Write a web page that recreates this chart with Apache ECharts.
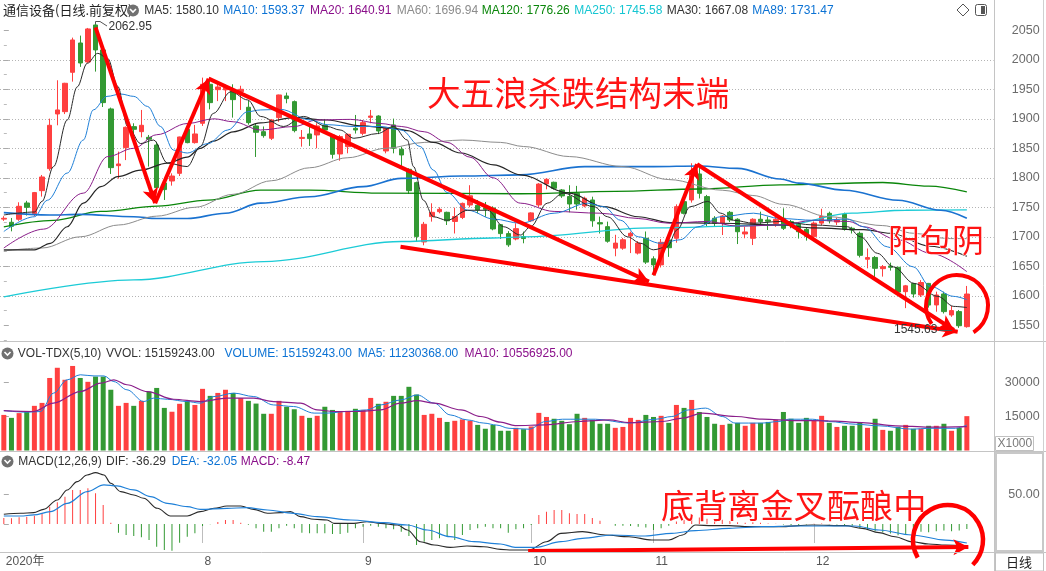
<!DOCTYPE html>
<html>
<head>
<meta charset="utf-8">
<title>通信设备 日线</title>
<script src="https://cdn.jsdelivr.net/npm/echarts@6/dist/echarts.min.js"></script>
<style>
  html, body { margin: 0; padding: 0; background: #fff; }
  #main { width: 1046px; height: 571px; }
</style>
</head>
<body>
<div id="main"></div>
<script>
// trading days on the chart, 2020-06-24 .. 2020-12-29
const jun = [24, 29, 30]
const jul = [1, 2, 3, 6, 7, 8, 9, 10, 13, 14, 15, 16, 17, 20, 21, 22, 23, 24, 27, 28, 29, 30, 31]
const aug = [3, 4, 5, 6, 7, 10, 11, 12, 13, 14, 17, 18, 19, 20, 21, 24, 25, 26, 27, 28, 31]
const sep = [1, 2, 3, 4, 7, 8, 9, 10, 11, 14, 15, 16, 17, 18, 21, 22, 23, 24, 25, 28, 29, 30]
const oct = [9, 12, 13, 14, 15, 16, 19, 20, 21, 22, 23, 26, 27, 28, 29, 30]
const nov = [2, 3, 4, 5, 6, 9, 10, 11, 12, 13, 16, 17, 18, 19, 20, 23, 24, 25, 26, 27, 30]
const dec = [1, 2, 3, 4, 7, 8, 9, 10, 11, 14, 15, 16, 17, 18, 21, 22, 23, 24, 25, 28, 29]
const labelMonths = ['08', '09', '10', '11', '12']

// [open, close, low, high]
const candles = [
  [1730, 1731.4, 1727, 1735], [1724.6, 1717.8, 1709.3, 1731.9], [1729.7, 1751.7, 1727, 1758.5], [1757.3, 1750, 1736, 1761],
  [1739.3, 1774.9, 1735, 1776], [1778.2, 1801.4, 1768.1, 1804.8], [1815.5, 1889, 1812, 1900.3], [1908.2, 1915, 1889, 1965.3],
  [1912.1, 1960.2, 1908, 1961], [1978.8, 2033.6, 1963, 2037.6], [2028.5, 1994.6, 1988, 2041], [1996.3, 2052.3, 1995, 2054],
  [2059, 2016.7, 1980, 2062.95], [2016.7, 1927.4, 1920, 2019], [1916.7, 1817.2, 1806.5, 1919], [1820.6, 1823.4, 1798.6, 1844.4],
  [1851.1, 1885.6, 1830, 1887], [1886.7, 1882.2, 1865.8, 1892.4], [1878.2, 1889, 1868.6, 1915], [1868.6, 1865.3, 1819, 1872.6],
  [1855.6, 1783.3, 1781, 1861], [1791.2, 1780, 1762.4, 1796], [1794.6, 1803, 1786.7, 1807.6], [1807.6, 1869.2, 1803, 1869.8],
  [1882.2, 1859.6, 1858.5, 1892.4], [1859.6, 1874.3, 1858, 1889.6], [1892.4, 1958.5, 1887.9, 1969.8], [1958.5, 1927.4, 1916, 1970.3],
  [1949.4, 1954, 1930, 1958.5], [1949, 1953, 1930, 1958], [1946.6, 1932.5, 1902, 1958.5], [1946, 1950, 1915, 1956],
  [1919.5, 1893.5, 1890, 1930.8], [1887.9, 1877.1, 1835.3, 1892.4], [1878.2, 1871.5, 1868, 1887], [1867, 1898, 1864, 1899.7],
  [1902, 1940.4, 1895, 1941], [1938.7, 1934.2, 1926.3, 1944.4], [1929.1, 1880, 1877, 1931], [1866.8, 1868.5, 1852.8, 1881],
  [1874.3, 1866.4, 1854, 1887.9], [1872.6, 1887.9, 1850, 1892.4], [1889, 1881, 1878, 1899.7], [1872.6, 1839.8, 1832.5, 1873.7],
  [1840.4, 1869.8, 1829, 1872.6], [1852.8, 1873.7, 1841.5, 1874.9], [1883.9, 1881, 1875, 1906.5], [1875.4, 1893.5, 1872, 1898],
  [1902.5, 1904.7, 1892.4, 1915], [1904.7, 1879.4, 1874, 1906], [1845.5, 1883.9, 1841.5, 1885], [1889.6, 1850, 1841.5, 1900.3],
  [1848.3, 1838.7, 1816, 1852.8], [1814.4, 1778.2, 1772.6, 1816], [1791.8, 1700.3, 1691.3, 1793.5], [1691.3, 1721.2, 1685.6, 1725.2],
  [1734.2, 1741.5, 1725.7, 1756.8], [1742.6, 1746.6, 1739.8, 1750], [1741.5, 1727.1, 1720, 1742.6], [1726, 1734.2, 1705.6, 1749.4],
  [1732.8, 1756.6, 1730, 1758], [1753.9, 1769.5, 1750, 1787.4], [1753.4, 1745.5, 1739.8, 1762.4], [1749, 1746.6, 1734, 1759],
  [1748.9, 1713.3, 1711, 1751.7], [1720.6, 1705.4, 1696.3, 1721.8], [1705.4, 1686.4, 1683, 1709.6], [1696.3, 1713.8, 1694, 1723],
  [1700.3, 1697, 1689, 1708.8], [1727.1, 1740.5, 1725, 1741.6], [1754, 1789.4, 1750, 1791], [1789.6, 1797.5, 1780.5, 1799.2],
  [1792.4, 1782.3, 1780, 1793.5], [1779.4, 1769.3, 1766, 1781], [1768.2, 1755.6, 1741.5, 1787.4], [1773.7, 1755.6, 1746, 1786.3],
  [1752.3, 1765.3, 1750, 1768], [1762.4, 1727.1, 1717, 1768], [1724, 1721.8, 1705.6, 1734.2], [1717.2, 1692.5, 1690, 1725.7],
  [1680.8, 1689.3, 1667, 1703.4], [1680.8, 1695, 1678, 1698], [1701.4, 1705.9, 1672.4, 1708.8], [1672.4, 1689.3, 1670, 1692.7],
  [1697.5, 1657.1, 1654, 1709], [1662.6, 1652.4, 1634.4, 1667], [1652.4, 1690.7, 1648, 1696.3], [1694.5, 1681.5, 1666, 1703],
  [1697.5, 1751.1, 1690, 1755], [1759.6, 1739.8, 1738, 1762], [1762.4, 1807.6, 1758, 1824.6], [1806.5, 1773.7, 1765, 1823.4],
  [1768.1, 1722.7, 1718, 1771], [1731.4, 1722.7, 1718, 1735], [1722.7, 1735.3, 1703, 1737], [1741.5, 1728.5, 1725, 1743.8],
  [1729.7, 1708.6, 1687.7, 1731.4], [1704.8, 1708.2, 1697.5, 1717], [1697.5, 1729.7, 1686, 1731.4], [1729.7, 1725.7, 1720, 1742.6],
  [1728.5, 1726.3, 1711.6, 1734.2], [1722.7, 1729.7, 1717, 1734.2], [1731.4, 1714.4, 1711.6, 1748.3], [1725.7, 1721.8, 1714.4, 1728.5],
  [1721.8, 1708.6, 1697, 1724], [1712.7, 1701, 1693.5, 1716], [1700.3, 1723.2, 1698, 1726], [1723.2, 1734.5, 1720, 1747.5],
  [1739.8, 1727.1, 1722.7, 1742.6], [1725, 1728.5, 1720, 1732.5], [1738.1, 1712.7, 1710.5, 1740.9], [1714.4, 1711.6, 1705.6, 1717],
  [1705.9, 1668.6, 1665, 1708.8], [1662, 1664.8, 1646.6, 1680.2], [1665, 1646.6, 1632, 1667.5], [1646, 1649.4, 1632.5, 1652.2],
  [1650.5, 1648.3, 1642.7, 1656.2], [1648.3, 1606.3, 1603, 1649.4], [1607, 1616.9, 1579.1, 1618.4], [1620.9, 1603.1, 1597, 1621.2],
  [1601.4, 1622.5, 1598, 1626.6], [1621, 1584.3, 1580, 1621.8], [1584.5, 1601.4, 1573, 1607], [1603.1, 1573.2, 1570, 1607],
  [1567.5, 1574.9, 1564.4, 1582.7], [1573.2, 1549.3, 1545.63, 1576], [1547.7, 1603, 1546, 1616.7]
]

// volume, in units of 1000 shares
const volume = [
  15700, 14400, 16500, 17200, 19700, 21000, 32000, 36500, 31200, 37300,
  32000, 30300, 32600, 32600, 26800, 19700, 21000, 19700, 21900, 26000,
  27600, 18800, 17100, 20600, 21800, 20100, 27200, 24100, 25400, 26800,
  25400, 23100, 21900, 20700, 16200, 16200, 21900, 19300, 18200, 15300,
  14400, 15300, 19300, 17900, 17100, 17500, 18400, 17900, 23200, 20600,
  21500, 24100, 24100, 28100, 24700, 15700, 16200, 14400, 12600, 13100,
  13700, 13100, 11300, 9600, 11300, 8700, 8700, 10000, 9400, 10600,
  16600, 14800, 14000, 13100, 11600, 16200, 14400, 13500, 11800, 11800,
  10000, 10400, 14400, 13500, 15700, 14800, 15300, 12200, 20100, 18800,
  22300, 17000, 14800, 11800, 11300, 11800, 12200, 10900, 12200, 12200,
  12600, 13500, 17000, 14000, 12200, 14400, 13100, 15300, 12200, 10400,
  10900, 10900, 12200, 10000, 14000, 9100, 8700, 10400, 11300, 9600,
  9600, 10900, 10900, 11800, 8700, 10000, 15159
]

const macdHist = [
  10, 9.6, 11.2, 12.4, 14, 16.9, 29.2, 36.5, 46, 57.3,
  57.3, 60.1, 51.7, 32, 2.2, -14.6, -18.5, -20.2, -22.5, -27,
  -38.2, -43.8, -45, -31.5, -21.4, -15.7, -3.4, -0.5, 3.4, 6.7,
  6.7, 2.2, -1.1, -7.3, -12.9, -12.9, -7.3, -2.8, -7.3, -14.6,
  -15.7, -15.7, -15.7, -16.9, -16.9, -14.6, -7.3, -4.5, -2.8, -4.5,
  -7.3, -9, -12.9, -20.2, -35.4, -29.8, -27, -24.2, -21.4, -27,
  -18.5, -10.1, -7.3, -4.5, -7.3, -7.3, -14.6, -9, -7.3, -1.7,
  15.2, 20.8, 23.6, 23.6, 18, 16.9, 16.9, 10.1, 5.6, 0,
  -2.8, -2.8, -3.5, -4.5, -6, -10.1, -7.3, -2.8, 4, 6.7,
  12.4, 11, 9, 8, 7, 5, 3, 2, 3, 2,
  1, 0.5, -1, -1.5, -2, -1, 0.5, 1, -0.5, -1,
  -1.5, -3, -7, -9, -12, -14, -16, -19, -17, -16,
  -13, -14, -12, -11, -12, -11, -8.47
]

// moving averages: [bar index, value]
const ma5 = [[0, 1737], [4, 1742], [5, 1760], [6.5, 1819], [8.3, 1898], [9.6, 1954], [10.9, 1994], [12.3, 2011], [13.6, 2002], [14.9, 1955], [16.2, 1887], [17.9, 1858], [19.6, 1864], [21.4, 1825], [24, 1819], [25.7, 1853], [27.4, 1909], [29.7, 1946], [31.9, 1932], [33.6, 1904], [36.6, 1887], [39.2, 1904], [42.3, 1887], [44, 1881], [45.8, 1867], [48.9, 1875], [51, 1887], [52.8, 1864], [53.6, 1819], [54.9, 1762], [56.2, 1734], [58, 1728], [60.7, 1745], [63.3, 1745], [65.4, 1717], [67.6, 1703], [68.9, 1717], [71.1, 1757], [73.2, 1774], [77.2, 1751], [79, 1734], [81.6, 1700], [83.3, 1689], [85, 1678], [86.8, 1683], [88.1, 1712], [89.8, 1751], [92.1, 1760], [93.8, 1740], [95.5, 1728], [98.1, 1723], [101.6, 1726], [106, 1720], [110.4, 1717], [112.1, 1700], [114.3, 1672], [116.4, 1649], [119.1, 1621], [122.2, 1599], [124.3, 1582], [126, 1580.1]]
const ma10 = [[0, 1709], [4, 1734], [5.7, 1762], [8.3, 1808], [10.4, 1864], [11.7, 1915], [13.5, 1938], [15.3, 1942], [17, 1938], [18.8, 1921], [20.5, 1887], [22.2, 1847], [24, 1842], [26.7, 1858], [29.3, 1881], [31.9, 1912], [33.6, 1915], [36.2, 1916], [40.1, 1898], [42.3, 1890], [45.8, 1887], [49.3, 1887], [52, 1881], [54.5, 1853], [56.2, 1813], [58, 1775], [60.7, 1745], [64.1, 1730], [67.6, 1723], [72, 1740], [76.4, 1757], [78.5, 1751], [80.7, 1728], [83, 1700], [85.9, 1689], [88.5, 1695], [90.8, 1717], [93.8, 1734], [98.1, 1740], [101.6, 1731], [106, 1728], [110.4, 1730], [112.5, 1717], [115.6, 1683], [119, 1649], [121.2, 1616], [124.3, 1599], [126, 1593.4]]
const ma20 = [[0, 1681], [5.2, 1713], [10.4, 1774], [13.6, 1836], [17, 1850], [20, 1873], [24, 1892], [27.5, 1900], [30, 1895], [33.6, 1881], [38, 1887], [41, 1898], [45.4, 1899], [49.3, 1892], [52, 1887], [55, 1878], [58, 1860], [61, 1835], [64, 1800], [67.6, 1757], [72, 1743], [78, 1740], [83, 1731], [87, 1723], [92, 1726], [96, 1718], [101.6, 1720], [106, 1728], [110.6, 1726], [112.5, 1717], [117, 1695], [121.3, 1672], [126, 1640.9]]
const ma30 = [[0, 1678], [4, 1678], [6.1, 1689], [8.3, 1717], [10.4, 1757], [12.7, 1785], [14.9, 1802], [17.9, 1813], [21.4, 1825], [24, 1835], [25.7, 1850], [27.4, 1862], [30, 1878], [33.6, 1893], [37.9, 1902], [42.3, 1898], [46.7, 1888], [51, 1884], [52.8, 1880], [56.2, 1860], [59.8, 1842], [64.1, 1822], [67.6, 1805], [74, 1774], [78.5, 1751], [83, 1734], [87.2, 1724], [93.8, 1723], [101.6, 1720], [106, 1715], [112.5, 1712], [116, 1706], [121.2, 1684], [126, 1667.1]]
const ma60 = [[0, 1676], [5, 1681], [10, 1700], [15, 1720], [20, 1735], [25, 1750], [30, 1772], [35, 1795], [40, 1817], [45, 1834], [50, 1850], [55, 1860], [60, 1864], [65, 1860], [68, 1853], [74, 1836], [81, 1819], [87, 1797], [94, 1779], [98, 1770], [102, 1755], [108, 1734], [115, 1719], [119, 1706], [123.5, 1697], [126, 1696.9]]
const ma89 = [[0, 1741], [6, 1737], [10, 1738], [17, 1734], [20, 1731], [24, 1731], [29, 1740], [33.6, 1757], [40, 1768], [47, 1785], [52, 1799], [60, 1803], [67.6, 1805], [76, 1819], [85, 1819], [91, 1820], [96, 1816], [101.6, 1798], [104, 1791], [110, 1779], [117, 1762], [122.6, 1745], [126, 1731.5]]
const ma120 = [[0, 1717], [6.5, 1728], [12.7, 1743], [20.1, 1752], [26.7, 1762], [33.6, 1779], [40, 1779], [49, 1774], [67.6, 1773], [80, 1777], [91, 1781], [101.6, 1788], [115, 1792], [121, 1786], [126, 1776.3]]
const ma250 = [[0, 1598], [17, 1627], [34, 1658], [52, 1692], [64, 1698], [68, 1700], [85, 1715], [102, 1720], [111, 1740], [118, 1745], [126, 1745.6]]

const volMa5 = [[0, 17600], [3.1, 16900], [4.8, 17200], [6.5, 25300], [8.3, 31200], [10, 33400], [11.8, 32900], [13.1, 32900], [14.4, 30400], [16.1, 26800], [18.3, 21600], [19.6, 23100], [21.4, 22600], [24, 21600], [25.7, 20900], [27.5, 23800], [30.1, 25300], [32.7, 23800], [35.3, 20100], [37.9, 19400], [40.6, 16500], [42.3, 16500], [44.9, 17200], [47.5, 17900], [49.3, 20100], [51.9, 22300], [54.1, 24500], [56.3, 20900], [58.4, 15700], [60.6, 13500], [62.8, 12100], [64.5, 11200], [66.1, 9800], [68.7, 9400], [70.9, 12800], [73.1, 13800], [77.4, 13800], [81.8, 12100], [85.3, 13800], [87.4, 15000], [89.6, 17900], [91.8, 18700], [94, 15000], [95.7, 12100], [99.2, 12100], [101.4, 12800], [102.7, 13800], [105.8, 13800], [107.9, 12800], [111.4, 11600], [114.5, 10900], [118.9, 9400], [121, 9800], [124.5, 9800], [126, 11230]]
const volMa10 = [[0, 17600], [3.9, 17200], [6.5, 20900], [10, 26000], [12.7, 29700], [14.4, 31200], [16.1, 29000], [18.8, 26000], [22.2, 22600], [25.7, 21600], [29.2, 23100], [32.7, 23100], [35.3, 21600], [38.8, 20900], [41, 17900], [43.2, 17200], [46.7, 17200], [49.3, 17900], [51.9, 20900], [54.1, 22000], [56.3, 20900], [59.8, 17900], [62.4, 15000], [65, 12500], [66.9, 11000], [70.9, 11300], [75.2, 12800], [79.2, 13500], [81.8, 12300], [86.2, 12800], [88.8, 14300], [91.4, 16500], [95.8, 15000], [99.2, 13800], [103.6, 13200], [107.9, 13100], [112.3, 12300], [116.7, 10900], [121, 10300], [126, 10557]]

const dif = [[0, 16.3], [2.2, 18], [3.9, 19.1], [5.2, 24.7], [7, 40.5], [8.3, 57.3], [9.6, 71.4], [10.9, 82.6], [12, 86.5], [13.1, 82.6], [14, 68.5], [15.3, 54.5], [17, 48.9], [18.3, 43.3], [20.1, 26.4], [21.8, 13.5], [24, 13.5], [25.7, 20.8], [27.5, 26.4], [29.2, 30.3], [31, 30.3], [32.7, 24.7], [34.5, 18], [36.2, 19.1], [37.5, 20.8], [38.8, 12.4], [40.6, 7.9], [42.3, 6.7], [43.2, 1.1], [45.8, 1.1], [47.5, 3.9], [49.3, 1.1], [51.5, -1.7], [52.8, -10.1], [54.5, -29.8], [56.3, -35.4], [58.4, -39.3], [60.6, -37.1], [62.8, -38.2], [65, -42.7], [66.5, -43.8], [68.7, -43.8], [71, -29.8], [72.9, -15.7], [75.7, -12.9], [78.7, -18.5], [81.8, -21.4], [84.8, -27], [87, -27], [88.8, -18.5], [90.5, -1.7], [92.7, -2.8], [94.9, -2.8], [97.5, -4.5], [101.4, -4.5], [105.8, -1.7], [110.1, -2.8], [112.3, -7.3], [114.5, -14.6], [116.6, -21.4], [118.8, -29.8], [121, -33.7], [123.2, -35.4], [126, -36.29]]
const dea = [[0, 13.5], [2.2, 13.5], [3.9, 15.2], [6.1, 20.8], [8.3, 34.8], [10.9, 54.5], [13.1, 65.8], [14.8, 64.1], [17, 57.3], [19.2, 46.1], [21.4, 34.8], [24, 29.2], [25.7, 24.7], [29.2, 26.4], [31.8, 27.5], [34.5, 23.6], [37.9, 18], [41, 12.4], [45.4, 6.7], [49.7, 2.2], [52.8, -1.7], [55.4, -10.1], [58.4, -21.4], [61.5, -29.8], [65, -33.7], [66.9, -39.3], [69.6, -39.3], [72.9, -29.8], [75.7, -24.2], [79.6, -18.5], [83.9, -20.2], [87.4, -15.7], [90.5, -11.2], [94.9, -7.3], [99.2, -4.5], [103.6, -3.4], [107.9, -3.4], [111.4, -3.4], [114.5, -10.1], [118.8, -18.5], [123.2, -27], [126, -32.05]]

// axis tick labels
const priceTicks = [1550, 1600, 1650, 1700, 1750, 1800, 1850, 1900, 1950, 2000, 2050]
const volTicks = [15000, 30000]
const macdTicks = [0, 50]

// hand drawn red strokes on the chart: [[fromIndex, fromValue], [toIndex, toValue]]
const priceArrows = [
  [[12, 2055], [19.8, 1757]],
  [[19.8, 1757], [26.8, 1968]],
  [[26.8, 1968], [84.4, 1624]],
  [[85, 1635], [90.7, 1823]],
  [[90.7, 1823], [124.3, 1542]],
  [[51.9, 1683], [124.8, 1539]]
]
const macdArrows = [[[68.6, -45.5], [126.2, -38.7]]]

const UP = '#ff4040'
const DOWN = '#339933'
const RED = '#ff0000'
const NUM_FONT = '"Liberation Sans", Arial, sans-serif'
const CJK_FONT = '"Noto Sans CJK SC", sans-serif'

const dates = []
;[['06', jun], ['07', jul], ['08', aug], ['09', sep], ['10', oct], ['11', nov], ['12', dec]].forEach(([m, days]) => {
  days.forEach(d => dates.push('2020-' + m + '-' + String(d).padStart(2, '0')))
})
const categories = dates.concat(['pad1', 'pad2', 'pad3'])
const nSlots = categories.length

const labelAt = { 0: '2020年' }
dates.forEach((d, i) => {
  const m = d.slice(5, 7)
  if (i > 0 && labelMonths.includes(m) && dates[i - 1].slice(5, 7) !== m) labelAt[i] = String(+m)
})

const chart = echarts.init(document.getElementById('main'), null, { renderer: 'canvas' })

const gridRight = 1046 - 993.6
const hiddenCat = g => ({ type: 'category', gridIndex: g, data: categories, show: false })
const hiddenVal = g => ({ type: 'value', gridIndex: g, min: -0.5, max: nSlots - 0.5, show: false, position: 'top' })

const dotted = { show: true, showMinLine: false, showMaxLine: false, lineStyle: { color: '#b4b4b4', type: [1, 2], width: 1 } }
const rightAxis = (g, min, max, interval, ticks, fmt) => ({
  type: 'value', gridIndex: g, position: 'right', min, max, interval, scale: true,
  axisLine: { show: false },
  axisTick: { show: true, length: 5, customValues: ticks, lineStyle: { color: '#aaa' } },
  axisLabel: {
    customValues: ticks, align: 'right', margin: 46, color: '#6b6b6b',
    fontSize: 12.5, fontFamily: NUM_FONT, formatter: fmt
  },
  splitLine: dotted
})

const maLine = (name, data, color, width, xi, yi) => ({
  name, type: 'line', xAxisIndex: xi, yAxisIndex: yi, data, symbol: 'none',
  smooth: 0.35, smoothMonotone: 'x', silent: true,
  lineStyle: { color, width }, z: 3
})

const arrowLines = list => list.map(([a, b]) => [{ coord: a }, { coord: b }])

const txt = (x, y, text, color, font, extra) => Object.assign({
  type: 'text', x, y, z: 50, silent: true,
  style: { text, fill: color, font, align: 'left', verticalAlign: 'middle' }
}, extra || {})
// thin red hand-written note: white edge trims the glyph strokes
const note = (x, y, text, size) => ({
  type: 'text', x, y, z: 60, silent: true,
  style: {
    text, fill: '#ff1414', stroke: '#ffffff', lineWidth: 1.1,
    font: size + 'px ' + CJK_FONT, align: 'left', verticalAlign: 'middle'
  }
})
const hline = (x1, y1, x2, y2, color, w) => ({
  type: 'line', silent: true, z: 40, shape: { x1, y1, x2, y2 }, style: { stroke: color, lineWidth: w || 1 }
})
const foldIcon = (cx, cy) => [
  { type: 'circle', silent: true, z: 50, shape: { cx, cy, r: 6 }, style: { fill: '#707070' } },
  { type: 'polyline', silent: true, z: 51, shape: { points: [[cx - 3, cy - 1.5], [cx, cy + 1.5], [cx + 3, cy - 1.5]] }, style: { stroke: '#fff', lineWidth: 1.6, fill: null } }
]

const HF = '12px ' + NUM_FONT
const BLUE = '#0b72d4'
const PURPLE = '#8a0f8a'

const graphic = [
  // panel frames
  hline(0, 341.5, 1046, 341.5, '#c4c4c4'),
  hline(0, 451.5, 1046, 451.5, '#c4c4c4'),
  hline(0, 552.5, 1046, 552.5, '#c4c4c4'),
  hline(994.5, 0, 994.5, 571, '#c4c4c4'),
  hline(1043.5, 0, 1043.5, 571, '#d0d0d0'),
  { type: 'rect', silent: true, z: 40, shape: { x: 996, y: 453, width: 47, height: 98 }, style: { fill: null, stroke: '#c8c8c8', lineWidth: 2 } },
  { type: 'rect', silent: true, z: 40, shape: { x: 995.5, y: 436.5, width: 38, height: 14 }, style: { fill: '#fff', stroke: '#c0c0c0', lineWidth: 1 } },
  txt(997.5, 444, 'X1000', '#7a7a7a', '12px ' + NUM_FONT),
  { type: 'rect', silent: true, z: 40, shape: { x: 995.5, y: 553, width: 48, height: 18 }, style: { fill: '#fff', stroke: '#c0c0c0', lineWidth: 1 } },
  txt(1006, 562, '日线', '#222', '13px ' + CJK_FONT),

  // main header
  txt(3, 10.5, '通信设备(日线.前复权)', '#222', '13px ' + CJK_FONT),
  ...foldIcon(133, 10.5),
  txt(144.3, 10.5, 'MA5: 1580.10', '#333', HF),
  txt(223.3, 10.5, 'MA10: 1593.37', BLUE, HF),
  txt(310, 10.5, 'MA20: 1640.91', PURPLE, HF),
  txt(396.7, 10.5, 'MA60: 1696.94', '#8c8c8c', HF),
  txt(481.7, 10.5, 'MA120: 1776.26', '#0a860a', HF),
  txt(574.3, 10.5, 'MA250: 1745.58', '#16c6d2', HF),
  txt(666.7, 10.5, 'MA30: 1667.08', '#333', HF),
  txt(752.3, 10.5, 'MA89: 1731.47', BLUE, HF),
  { type: 'polygon', silent: true, z: 50, shape: { points: [[963, 4], [969, 10], [963, 16], [957, 10]] }, style: { fill: null, stroke: '#555', lineWidth: 1 } },
  { type: 'rect', silent: true, z: 50, shape: { x: 975.5, y: 4.5, width: 11, height: 11, r: 2 }, style: { fill: null, stroke: '#555', lineWidth: 1 } },
  { type: 'rect', silent: true, z: 50, shape: { x: 981, y: 6, width: 4, height: 8 }, style: { fill: '#555' } },

  // volume header
  ...foldIcon(7.5, 353.5),
  txt(17.8, 353.5, 'VOL-TDX(5,10)', '#333', HF),
  txt(105.9, 353.5, 'VVOL: 15159243.00', '#333', HF),
  txt(224.5, 353.5, 'VOLUME: 15159243.00', BLUE, HF),
  txt(357.7, 353.5, 'MA5: 11230368.00', BLUE, HF),
  txt(464.4, 353.5, 'MA10: 10556925.00', PURPLE, HF),

  // macd header
  ...foldIcon(7.5, 461.5),
  txt(18.3, 461.5, 'MACD(12,26,9)', '#333', HF),
  txt(106, 461.5, 'DIF: -36.29', '#333', HF),
  txt(171.7, 461.5, 'DEA: -32.05', BLUE, HF),
  txt(240.7, 461.5, 'MACD: -8.47', PURPLE, HF),

  // high / low marks
  { type: 'polyline', silent: true, z: 45, shape: { points: [[95.5, 24], [95.5, 21.5], [100, 21.5], [107, 26]] }, style: { stroke: '#555', lineWidth: 1, fill: null } },
  txt(108.5, 27, '2062.95', '#333', HF),
  txt(894, 330, '1545.63', '#333', HF),
  hline(939, 330.5, 952, 330.5, '#555'),

  // red notes
  note(427, 93, '大五浪杀跌结构末端', 33.6),
  note(888, 240, '阳包阴', 32),
  note(661, 505.5, '底背离金叉酝酿中', 33.2),
  { type: 'arc', silent: true, z: 60, shape: { cx: 957, cy: 306, r: 31, startAngle: 145 * Math.PI / 180, endAngle: 418 * Math.PI / 180, clockwise: true }, style: { fill: null, stroke: RED, lineWidth: 4 } },
  { type: 'arc', silent: true, z: 60, shape: { cx: 948, cy: 540, r: 35, startAngle: 150 * Math.PI / 180, endAngle: 405 * Math.PI / 180, clockwise: true }, style: { fill: null, stroke: RED, lineWidth: 4.5 } }
]

const option = {
  backgroundColor: '#ffffff',
  animation: false,
  textStyle: { fontFamily: NUM_FONT },
  grid: [
    { left: 0, right: gridRight, top: 0.8, height: 354 },
    { left: 0, right: gridRight, top: 348.5, height: 102 },
    { left: 0, right: gridRight, top: 464.6, height: 89.1 }
  ],
  xAxis: [
    hiddenCat(0),
    hiddenCat(1),
    {
      type: 'category', gridIndex: 2, data: categories,
      axisLine: { show: false },
      axisTick: { show: true, alignWithLabel: true, length: 19, interval: i => i > 0 && i in labelAt, lineStyle: { color: '#bdbdbd' } },
      axisLabel: {
        interval: i => i in labelAt, formatter: (v, i) => labelAt[i] || '',
        align: 'left', verticalAlign: 'middle', margin: 8, padding: [0, 0, 0, 2],
        color: '#555', fontSize: 12, fontFamily: '"Liberation Sans", "Noto Sans CJK SC", sans-serif'
      },
      splitLine: { show: false }
    },
    hiddenVal(0),
    hiddenVal(1),
    hiddenVal(2)
  ],
  yAxis: [
    Object.assign(rightAxis(0, 1500, 2100, 50, priceTicks, v => String(v)), {
      minorTick: { show: true, splitNumber: 2, length: 3, lineStyle: { color: '#bbb' } }
    }),
    rightAxis(1, 0, 45000, 15000, volTicks, v => String(v)),
    rightAxis(2, -50, 100, 50, macdTicks, v => v === 50 ? '50.00' : '')
  ],
  graphic,
  series: [
    {
      name: 'K', type: 'candlestick', xAxisIndex: 0, yAxisIndex: 0, data: candles,
      barWidth: 5, silent: true, z: 2,
      itemStyle: { color: UP, color0: DOWN, borderColor: UP, borderColor0: DOWN, borderWidth: 1 }
    },
    maLine('MA250', ma250, '#1ccbd6', 1.3, 3, 0),
    maLine('MA120', ma120, '#0a860a', 1.3, 3, 0),
    maLine('MA89', ma89, '#1a72d0', 1.6, 3, 0),
    maLine('MA60', ma60, '#8c8c8c', 1, 3, 0),
    maLine('MA30', ma30, '#262626', 1.2, 3, 0),
    maLine('MA20', ma20, '#8a1e8a', 1, 3, 0),
    maLine('MA10', ma10, '#1f80d8', 1, 3, 0),
    maLine('MA5', ma5, '#2a2a2a', 1, 3, 0),
    {
      name: 'notes', type: 'line', xAxisIndex: 3, yAxisIndex: 0, data: [], z: 20,
      markLine: {
        silent: true, animation: false, symbol: ['none', 'arrow'], symbolSize: [12, 15],
        label: { show: false }, lineStyle: { color: RED, width: 4, type: 'solid' },
        emphasis: { disabled: true },
        data: arrowLines(priceArrows)
      }
    },
    {
      name: 'VOL', type: 'bar', xAxisIndex: 1, yAxisIndex: 1, barWidth: 5, silent: true,
      data: volume.map((v, i) => ({ value: v, itemStyle: { color: candles[i][1] >= candles[i][0] ? UP : DOWN } }))
    },
    maLine('VOL MA5', volMa5, '#1f80d8', 1, 4, 1),
    maLine('VOL MA10', volMa10, '#8a1e8a', 1.2, 4, 1),
    {
      name: 'MACD', type: 'bar', xAxisIndex: 2, yAxisIndex: 2, barWidth: 1, silent: true,
      data: macdHist.map(v => ({ value: v, itemStyle: { color: v >= 0 ? UP : DOWN } }))
    },
    maLine('DIF', dif, '#2a2a2a', 1.1, 5, 2),
    maLine('DEA', dea, '#1f80d8', 1.2, 5, 2),
    {
      name: 'macd notes', type: 'line', xAxisIndex: 5, yAxisIndex: 2, data: [], z: 20,
      markLine: {
        silent: true, animation: false, symbol: ['none', 'arrow'], symbolSize: [12, 15],
        label: { show: false }, lineStyle: { color: RED, width: 4, type: 'solid' },
        emphasis: { disabled: true },
        data: arrowLines(macdArrows)
      }
    }
  ]
}

chart.setOption(option)
</script>
</body>
</html>
